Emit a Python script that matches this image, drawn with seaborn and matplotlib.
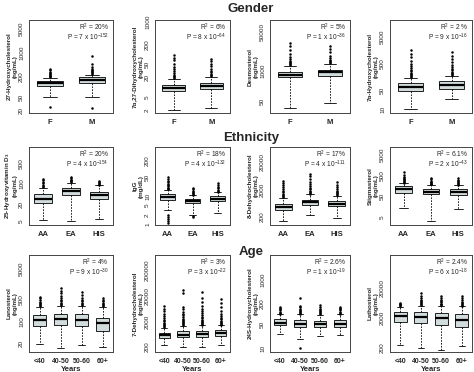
from __future__ import annotations

import matplotlib

matplotlib.use("Agg")
import matplotlib.pyplot as plt
import numpy as np
import pandas as pd
import seaborn as sns
from matplotlib.ticker import NullLocator

GENDER = ["F", "M"]
ETHNICITY = ["AA", "EA", "HIS"]
AGE = ["<40", "40-50", "50-60", "60+"]

# five numbers per group: lower whisker, q1, median, q3, upper whisker
HC27_BOX = [[50, 107, 125, 150, 180], [50, 128, 156, 187, 220]]
HC27_OUT = [[25, 190, 200, 210, 222, 235, 250, 270, 300, 330],
            [24, 232, 245, 260, 280, 300, 330, 380, 460, 800]]

DIHC_BOX = [[2.0, 7.5, 9.1, 11.2, 17], [2.25, 8.4, 10.7, 13.6, 20]]
DIHC_OUT = [[18.5, 20, 22, 24, 27, 30, 35, 42, 52, 65, 80, 93],
            [21.5, 23, 25, 28, 31, 36, 43, 52, 62, 73]]

DESMO_BOX = [[27, 570, 720, 940, 1700], [44, 650, 906, 1180, 2000]]
DESMO_OUT = [[1850, 2000, 2200, 2500, 2800, 3200, 4000, 5500, 8000, 12000, 16400],
             [2200, 2400, 2700, 3100, 3600, 4500, 6500, 9000, 11800]]

HC7A_BOX = [[11, 50, 71, 94, 150], [24, 58, 84, 112, 180]]
HC7A_OUT = [[160, 175, 190, 210, 235, 265, 300, 350, 420, 500, 650, 900, 1200, 1580],
            [195, 210, 230, 255, 285, 320, 370, 450, 560, 750, 1000, 1370]]

VITD_BOX = [[5.7, 22, 29, 44, 75], [5.4, 40, 57, 71, 110], [6.2, 31, 41, 54, 90]]
VITD_OUT = [[80, 88, 95, 105, 118, 132, 147],
            [116, 124, 132, 142, 155, 170],
            [95, 101, 108, 117, 128]]

IGG_BOX = [[3.3, 7.7, 9.7, 11.9, 17], [2.15, 5.8, 6.7, 8.2, 11], [2.5, 7.1, 8.4, 10.3, 14]]
IGG_OUT = [[18, 19.5, 21, 23, 25.5, 28, 32, 37, 43, 49, 2.2, 1.8, 1.5, 1.3, 1.1],
           [11.7, 12.5, 13.5, 14.8, 16.3, 18, 21, 1.9, 1.8],
           [15, 16.2, 17.5, 19.5, 22, 25.5, 29.5]]

DHC8_BOX = [[137, 356, 448, 580, 1000], [230, 548, 690, 843, 1300], [173, 474, 597, 730, 1150]]
DHC8_OUT = [[1080, 1170, 1280, 1400, 1550, 1750, 2000, 2350, 2800, 3400, 4100],
            [1400, 1520, 1650, 1800, 2000, 2250, 2600, 3100, 3800, 4800, 6000, 7300],
            [1240, 1340, 1460, 1600, 1800, 2050, 2400, 2900, 3770]]

STIG_BOX = [[14.7, 80, 114, 164, 220], [3.4, 71, 89, 122, 190], [13, 62, 85, 114, 180]]
STIG_OUT = [[235, 255, 280, 310, 350, 400, 470, 560, 740],
            [200, 215, 235, 260, 295, 340, 400],
            [190, 205, 225, 250, 285, 330, 400]]

LANO_BOX = [[18.5, 74, 110, 164, 300], [14.2, 79, 123, 173, 330],
            [17.6, 74, 117, 173, 330], [15.4, 50, 90, 133, 290]]
LANO_OUT = [[320, 345, 370, 400, 440, 500, 560, 646],
            [350, 380, 410, 450, 500, 570, 680, 850, 1000, 1180],
            [350, 380, 410, 450, 510, 600, 740, 910],
            [310, 335, 365, 400, 450, 510, 580]]

DHC7_BOX = [[232, 448, 570, 723, 1100], [194, 476, 604, 815, 1300],
            [194, 504, 660, 866, 1400], [247, 536, 702, 892, 1400]]
DHC7_OUT = [[1200, 1300, 1420, 1560, 1750, 2000, 2300, 2700, 3300, 4000, 5000, 6300, 7650],
            [1400, 1520, 1660, 1820, 2000, 2250, 2550, 2900, 3400, 4000, 4800, 5800, 7000, 26000, 32000],
            [1500, 1620, 1760, 1920, 2100, 2350, 2650, 3000, 3500, 4200, 5000, 6200, 8000, 11000, 16000, 27800],
            [1500, 1620, 1760, 1920, 2100, 2400, 2800, 3300, 4000, 5000, 7000, 10000, 15300]]

HC24S_BOX = [[26, 48.5, 58, 73, 100], [19.7, 43, 52, 68, 100],
             [23, 43, 52, 65, 95], [24.7, 43, 51, 68, 100]]
HC24S_OUT = [[106, 113, 121, 130, 142, 155, 168],
             [106, 112, 119, 127, 136, 147, 160, 180, 310, 10.5],
             [101, 107, 114, 122, 132, 145, 160, 188],
             [106, 113, 121, 130, 142, 155, 168]]

LATHO_BOX = [[248, 1410, 2170, 3000, 4500], [190, 1330, 2120, 3000, 5000],
             [165, 1160, 1950, 2770, 4800], [230, 937, 1660, 2630, 4700]]
LATHO_OUT = [[4800, 5100, 5500, 5900, 6350],
             [5300, 5700, 6100, 6600, 7200, 8000, 9000, 10500, 13200],
             [5100, 5500, 5900, 6400, 7000, 7800, 8800, 10200],
             [5000, 5400, 5800, 6300, 6900, 7700, 8800, 10200]]

Y_LABELS = [
    "27-Hydroxycholesterol\n(ng/mL)", "7\u03b1,27-Dihydroxycholesterol\n(ng/mL)",
    "Desmosterol\n(ng/mL)", "7\u03b1-Hydroxycholesterol\n(ng/mL)",
    "25-Hydroxyvitamin D$_\\mathbf{3}$\n(ng/mL)", "IgG\n(mg/dL)",
    "8-Dehydrocholesterol\n(ng/mL)", "Stigmasterol\n(ng/mL)",
    "Lanosterol\n(ng/mL)", "7-Dehydrocholesterol\n(ng/mL)",
    "24S-Hydroxycholesterol\n(ng/mL)", "Lathosterol\n(ng/mL)",
]
R2_TEXT = ["20%", "6%", "5%", "2 %", "20%", "18%", "17%", "6.1%", "4%", "3%", "2.6%", "2.4%"]
P_MANT = [7, 8, 1, 9, 4, 4, 4, 2, 9, 3, 1, 6]
P_EXP = [-152, -64, -36, -16, -154, -132, -111, -43, -30, -22, -19, -18]
Y_TICKS = [
    [20, 50, 200, 1000, 5000], [2, 5, 20, 50, 200, 1000], [50, 1000, 50000], [10, 50, 500, 5000],
    [5, 20, 100, 500], [1, 2, 5, 10, 50, 200], [200, 2000, 20000], [5, 50, 500, 5000],
    [20, 100, 500, 5000], [200, 2000, 20000, 200000], [10, 50, 200, 1000], [200, 2000, 20000],
]
Y_LIMS = [
    (17, 8700), (1.6, 1130), (16, 158000), (7.5, 21000),
    (3.8, 1900), (0.92, 620), (97, 73000), (2.2, 12300),
    (10.4, 14300), (128, 770000), (8, 5400), (140, 250000),
]
SECTIONS = ["Gender", "Ethnicity", "Age"]

BOX_FILL = "#d2dcdc"
FONT = ["Liberation Sans", "DejaVu Sans"]


def draw_panel(ax, idx, groups, boxes, outliers, xlabel=""):
    box_df = pd.DataFrame({
        "group": np.repeat(groups, 5),
        "value": np.concatenate(boxes),
    })
    out_df = pd.DataFrame({
        "group": [g for g, vals in zip(groups, outliers) for _ in vals],
        "value": [v for vals in outliers for v in vals],
    })
    sns.boxplot(
        data=box_df, x="group", y="value", order=groups, whis=(0, 100),
        width=0.62, log_scale=True, color=BOX_FILL, saturation=1,
        linecolor="black", linewidth=0.6, showfliers=False,
        medianprops={"linewidth": 1.6, "color": "black"},
        whiskerprops={"linestyle": (0, (2, 1.5))},
        ax=ax,
    )
    sns.stripplot(
        data=out_df, x="group", y="value", order=groups, jitter=False,
        color="black", size=1.8, linewidth=0, log_scale=True, ax=ax,
    )
    ax.set_ylim(Y_LIMS[idx])
    ax.set_yticks(Y_TICKS[idx])
    ax.set_yticklabels([str(t) for t in Y_TICKS[idx]])
    ax.yaxis.set_minor_locator(NullLocator())
    xsize = 5.0 if len(groups) == 4 else 5.5
    ax.tick_params(axis="y", labelrotation=90, labelsize=4.6, length=2, width=0.5, pad=1.5)
    ax.tick_params(axis="x", labelsize=xsize, length=2, width=0.5, pad=2)
    for lab in ax.get_xticklabels():
        lab.set_fontweight("bold")
    for lab in ax.get_yticklabels():
        lab.set_va("center")
    ax.set_ylabel(Y_LABELS[idx], fontsize=4.5, fontweight="bold", labelpad=1, linespacing=1.3)
    ax.set_xlabel(xlabel, fontsize=5.5, fontweight="bold", labelpad=1)
    for spine in ax.spines.values():
        spine.set_visible(True)
        spine.set_color("#444444")
        spine.set_linewidth(0.7)
    ax.annotate(f"R$^2$ = {R2_TEXT[idx]}", xy=(0.95, 1), xycoords="axes fraction",
                xytext=(0, -7), textcoords="offset pixels", ha="right", va="center", fontsize=4.8)
    ax.annotate(f"P = {P_MANT[idx]} x 10$^{{{P_EXP[idx]}}}$", xy=(0.95, 1), xycoords="axes fraction",
                xytext=(0, -17), textcoords="offset pixels", ha="right", va="center", fontsize=4.8)


def main() -> None:
    sns.set_theme(style="white")
    plt.rcParams["font.family"] = FONT
    plt.rcParams["mathtext.fontset"] = "custom"
    plt.rcParams["mathtext.rm"] = "Liberation Sans"
    plt.rcParams["mathtext.bf"] = "Liberation Sans:bold"

    W, H = 474, 372
    fig = plt.figure(figsize=(W / 100, H / 100), dpi=100)
    fig.patch.set_facecolor("white")

    cols = [(29, 113), (155, 230), (270, 350), (390, 472)]
    rows = [(20, 113), (147, 225), (255, 352)]

    def rect(c, r):
        x0, x1 = cols[c]
        y0, y1 = rows[r]
        return [x0 / W, 1 - y1 / H, (x1 - x0) / W, (y1 - y0) / H]

    panels = [
        (GENDER, HC27_BOX, HC27_OUT), (GENDER, DIHC_BOX, DIHC_OUT),
        (GENDER, DESMO_BOX, DESMO_OUT), (GENDER, HC7A_BOX, HC7A_OUT),
        (ETHNICITY, VITD_BOX, VITD_OUT), (ETHNICITY, IGG_BOX, IGG_OUT),
        (ETHNICITY, DHC8_BOX, DHC8_OUT), (ETHNICITY, STIG_BOX, STIG_OUT),
        (AGE, LANO_BOX, LANO_OUT), (AGE, DHC7_BOX, DHC7_OUT),
        (AGE, HC24S_BOX, HC24S_OUT), (AGE, LATHO_BOX, LATHO_OUT),
    ]
    for idx, (groups, boxes, outs) in enumerate(panels):
        r, c = divmod(idx, 4)
        ax = fig.add_axes(rect(c, r))
        draw_panel(ax, idx, groups, boxes, outs, xlabel="Years" if r == 2 else "")

    # section headings, baseline positions in pixels from the top
    for title, y in zip(SECTIONS, [12.5, 141.5, 255.5]):
        fig.text(251 / W, 1 - y / H, title, ha="center", va="baseline",
                 fontsize=9.5, fontweight="bold")

    fig.savefig("out.png", dpi=100)
    plt.close(fig)


if __name__ == "__main__":
    main()
